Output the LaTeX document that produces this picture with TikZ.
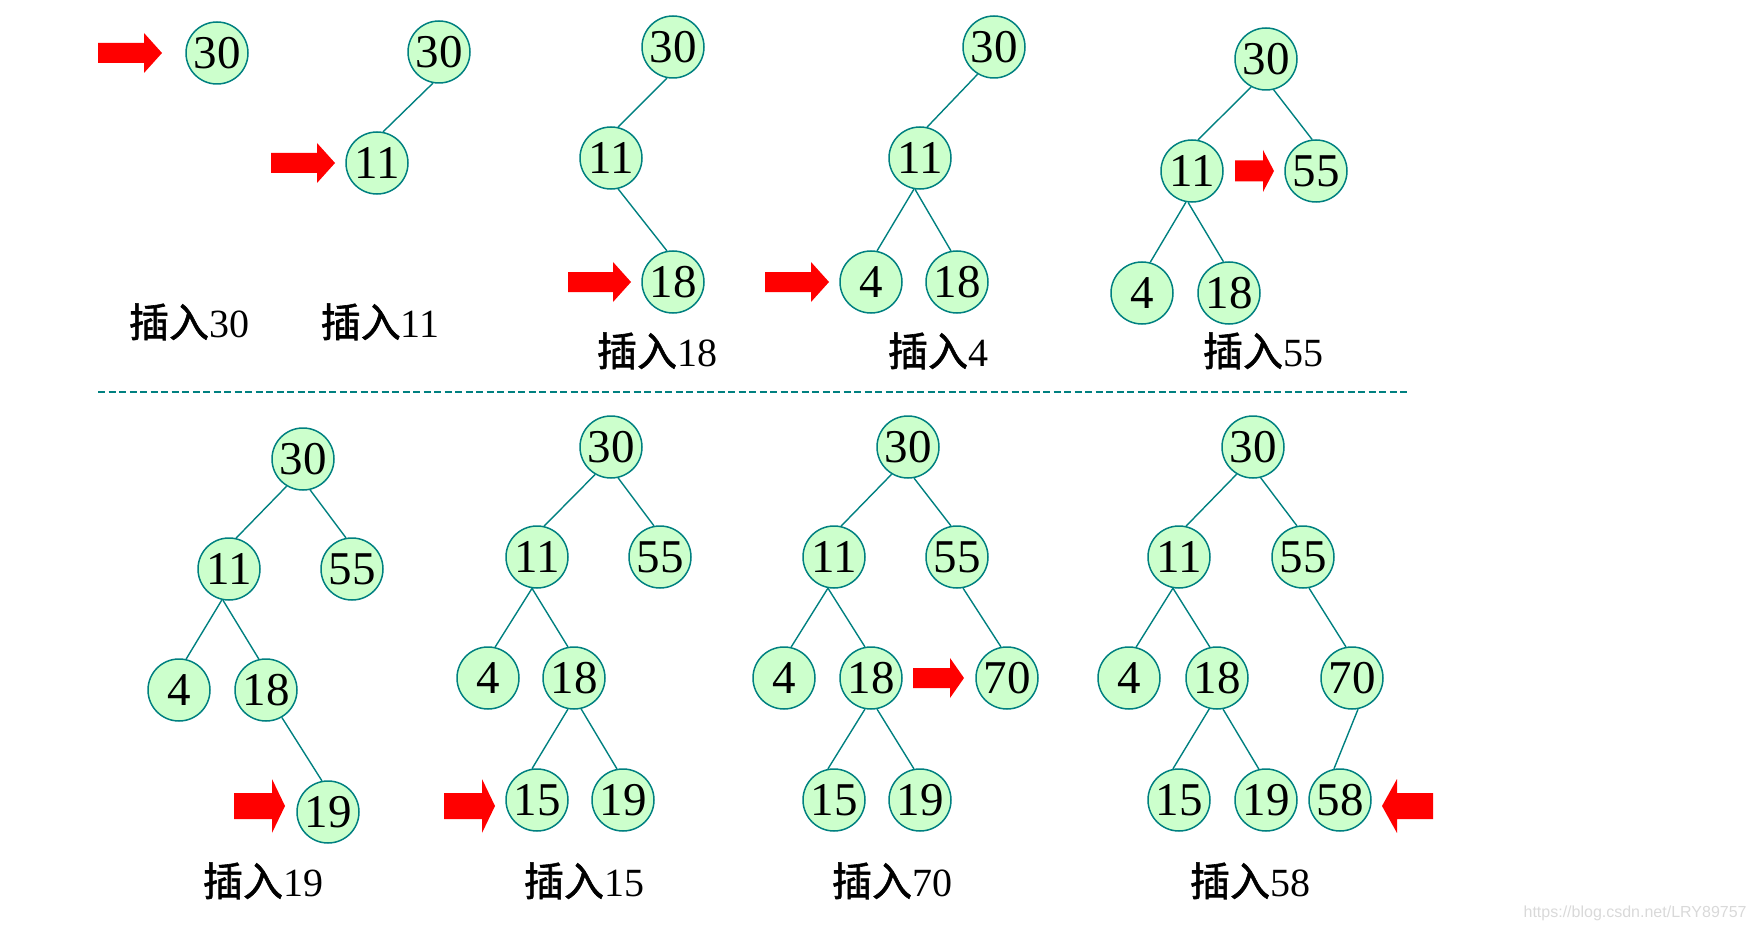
\documentclass[tikz,border=0pt]{standalone}
\usepackage{fontspec}
\setmainfont{Liberation Serif}
\newfontfamily\cjk{Noto Sans CJK SC}[FakeBold=1.5]
\newfontfamily\wmfont{Liberation Sans}

\definecolor{treeline}{RGB}{0,128,128}
\definecolor{keyfill}{RGB}{204,255,204}
\definecolor{pointerred}{RGB}{255,0,0}

\tikzset{
	keynode/.style={circle, draw=treeline, line width=0.75pt, fill=keyfill,
		minimum size=31pt, inner sep=0pt, font=\fontsize{23.5}{23.5}\selectfont},
	link/.style={treeline, line width=0.7pt},
	inslabel/.style={anchor=base, inner sep=0pt, font=\fontsize{20}{20}\selectfont},
	pics/pointer/.style n args={4}{code={
		\fill [pointerred] (0,#2) -- ({#1-#4},#2) -- ({#1-#4},#3) -- (#1,0)
			-- ({#1-#4},-#3) -- ({#1-#4},-#2) -- (0,-#2) -- cycle;
	}},
}

\begin{document}
\begin{tikzpicture}[x=0.5pt, y=-0.5pt]
	\useasboundingbox (0,0) rectangle (1753,931);

	% insert 30
	\node [keynode] (a30) at (217,53) {30};
	\pic at (98,53) {pointer={64}{10}{20}{18}};
	\node [inslabel] (la) at (189,337) {{\cjk 插入}30};

	% insert 11
	\node [keynode] (b30) at (439,52) {30};
	\node [keynode] (b11) at (377,163) {11};
	\pic at (271,163) {pointer={64}{10}{20}{18}};
	\node [inslabel] (lb) at (380,337) {{\cjk 插入}11};

	% insert 18
	\node [keynode] (c30) at (673,47) {30};
	\node [keynode] (c11) at (611,158) {11};
	\node [keynode] (c18) at (673,282) {18};
	\pic at (568,282) {pointer={63}{10}{20}{18}};
	\node [inslabel] (lc) at (657,366) {{\cjk 插入}18};

	% insert 4
	\node [keynode] (d30) at (994,47) {30};
	\node [keynode] (d11) at (920,158) {11};
	\node [keynode] (d4) at (871,282) {4};
	\node [keynode] (d18) at (957,282) {18};
	\pic at (765,282) {pointer={64}{10}{20}{18}};
	\node [inslabel] (ld) at (938,366) {{\cjk 插入}4};

	% insert 55
	\node [keynode] (e30) at (1266,59) {30};
	\node [keynode] (e11) at (1192,171) {11};
	\node [keynode] (e55) at (1316,171) {55};
	\node [keynode] (e4) at (1142,293) {4};
	\node [keynode] (e18) at (1229,293) {18};
	\pic at (1235,171) {pointer={39}{10.5}{21}{11}};
	\node [inslabel] (le) at (1263,366) {{\cjk 插入}55};

	\draw [treeline, line width=1pt, dash pattern=on 3.5pt off 1.75pt] (98,392) -- (1409,392);

	% insert 19
	\node [keynode] (f30) at (303,459) {30};
	\node [keynode] (f11) at (229,569) {11};
	\node [keynode] (f55) at (352,569) {55};
	\node [keynode] (f4) at (179,690) {4};
	\node [keynode] (f18) at (266,690) {18};
	\node [keynode] (f19) at (328,812) {19};
	\pic at (234,806) {pointer={51}{13}{27}{13}};
	\node [inslabel] (lf) at (263,896) {{\cjk 插入}19};

	% insert 15
	\node [keynode] (g30) at (611,447) {30};
	\node [keynode] (g11) at (537,557) {11};
	\node [keynode] (g55) at (660,557) {55};
	\node [keynode] (g4) at (488,678) {4};
	\node [keynode] (g18) at (574,678) {18};
	\node [keynode] (g15) at (537,800) {15};
	\node [keynode] (g19) at (623,800) {19};
	\pic at (444,806) {pointer={51}{13}{27}{13}};
	\node [inslabel] (lg) at (584,896) {{\cjk 插入}15};

	% insert 70
	\node [keynode] (h30) at (908,447) {30};
	\node [keynode] (h11) at (834,557) {11};
	\node [keynode] (h55) at (957,557) {55};
	\node [keynode] (h4) at (784,678) {4};
	\node [keynode] (h18) at (871,678) {18};
	\node [keynode] (h70) at (1007,678) {70};
	\node [keynode] (h15) at (834,800) {15};
	\node [keynode] (h19) at (920,800) {19};
	\pic at (913,678) {pointer={51}{10}{20}{14}};
	\node [inslabel] (lh) at (892,896) {{\cjk 插入}70};

	% insert 58
	\node [keynode] (i30) at (1253,447) {30};
	\node [keynode] (i11) at (1179,557) {11};
	\node [keynode] (i55) at (1303,557) {55};
	\node [keynode] (i4) at (1129,678) {4};
	\node [keynode] (i18) at (1217,678) {18};
	\node [keynode] (i70) at (1352,678) {70};
	\node [keynode] (i15) at (1179,800) {15};
	\node [keynode] (i19) at (1266,800) {19};
	\node [keynode] (i58) at (1340,800) {58};
	\pic at (1433,806) {pointer={-51}{13}{27}{-15}};
	\node [inslabel] (li) at (1250,896) {{\cjk 插入}58};

	% parent/angle/child/angle
	\foreach \p/\s/\c/\e in {b30/-101/b11/79, c30/-101/c11/77, c11/-77/c18/101,
		d30/-121/d11/77, d11/-101/d4/79, d11/-99/d18/101,
		e30/-118/e11/79, e30/-76/e55/97, e11/-101/e4/75, e11/-97/e18/100,
		f30/-121/f11/77, f30/-77/f55/101, f11/-103/f4/77, f11/-101/f18/103, f18/-60/f19/101,
		g30/-120/g11/77, g30/-77/g55/101, g11/-99/g4/77, g11/-99/g18/101, g18/-101/g15/99, g18/-77/g19/101,
		h30/-121/h11/77, h30/-79/h55/101, h11/-101/h4/77, h11/-101/h18/101, h55/-79/h70/101, h18/-101/h15/101, h18/-79/h19/101,
		i30/-121/i11/77, i30/-76/i55/101, i11/-101/i4/77, i11/-101/i18/103, i55/-79/i70/101, i18/-104/i15/101, i18/-79/i19/103, i70/-79/i58/101}
		\draw [link] (\p.\s) -- (\c.\e);

	\node [anchor=base east, inner sep=0pt, text=black!15, font=\wmfont\fontsize{8}{8}\selectfont] (wm) at (1747,917) {https://blog.csdn.net/LRY89757};
\end{tikzpicture}
\end{document}
